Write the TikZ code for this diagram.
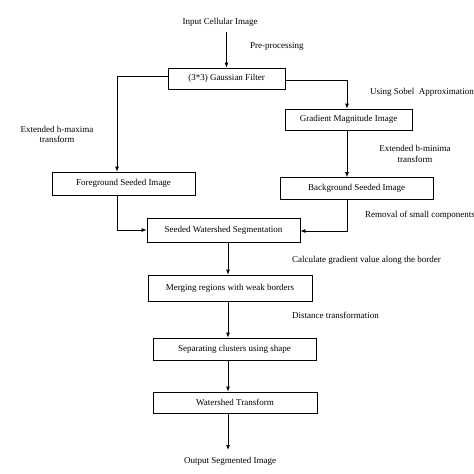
\documentclass[tikz,border=0pt]{standalone}
\usepackage{fontspec}
\setmainfont{Liberation Serif}
\usetikzlibrary{arrows.meta}
\begin{document}
\begin{tikzpicture}[x=1pt,y=-1pt,
  box/.style={draw, line width=0.8pt, inner sep=0pt, font=\fontsize{9}{10.5}\selectfont},
  lbl/.style={inner sep=0pt, font=\fontsize{9}{10.5}\selectfont},
  conn/.style={line width=0.8pt, -{Latex[length=5pt,width=4pt]}}]
\useasboundingbox[fill=white] (0,0) rectangle (474,474);
\node[lbl] (in) at (220,22) {Input Cellular Image};
\node[lbl, anchor=west] (pre) at (250,46) {Pre-processing};
\node[box, minimum width=117pt, minimum height=21pt] (gauss) at (226.5,78.5) {(3*3) Gaussian Filter};
\node[box, minimum width=127pt, minimum height=21pt] (grad) at (348.5,119.5) {Gradient Magnitude Image};
\node[box, minimum width=143pt, minimum height=23pt] (fg) at (123.5,183.5) {Foreground Seeded Image};
\node[box, minimum width=153pt, minimum height=22pt] (bg) at (356.5,188.5) {Background Seeded Image};
\node[box, minimum width=153pt, minimum height=24pt] (sws) at (223.5,230) {Seeded Watershed Segmentation};
\node[box, minimum width=164pt, minimum height=26pt] (merge) at (230,288) {Merging regions with weak borders};
\node[box, minimum width=163pt, minimum height=22pt] (sep) at (234.5,349) {Separating clusters using shape};
\node[box, minimum width=164pt, minimum height=21pt] (ws) at (235,402.5) {Watershed Transform};
\node[lbl] (out) at (230,461) {Output Segmented Image};
\node[lbl, align=center] (hmax) at (57,134.5) {Extended h-maxima\\transform};
\node[lbl, align=center] (hmin) at (415,154) {Extended h-minima\\transform};
\node[lbl, anchor=west] (sobel) at (370,92) {Using Sobel\ \ Approximation};
\node[lbl, anchor=west] (rem) at (365,215) {Removal of small components};
\node[lbl, anchor=west] (calc) at (292,260) {Calculate gradient value along the border};
\node[lbl, anchor=west] (dist) at (292,315) {Distance transformation};
\coordinate (c1) at (117,76);
\coordinate (c2) at (347,80);
\coordinate (c3) at (117,230);
\coordinate (c4) at (347,231);
\draw[conn] (in.south -| gauss.north) ++(0,6) -- (gauss.north);
\draw[conn] (gauss.west |- c1) -- (c1) -- (c1 |- fg.north);
\draw[conn] (gauss.east |- c2) -- (c2) -- (c2 |- grad.north);
\draw[conn] (grad.south -| c2) -- (c2 |- bg.north);
\draw[conn] (fg.south -| c3) -- (c3) -- (sws.west |- c3);
\draw[conn] (bg.south -| c4) -- (c4) -- (sws.east |- c4);
\draw[conn] (sws.south -| 228,0) -- (merge.north -| 228,0);
\draw[conn] (merge.south -| 228,0) -- (sep.north -| 228,0);
\draw[conn] (sep.south -| 228,0) -- (ws.north -| 228,0);
\draw[conn] (ws.south -| 228,0) -- (228,450);
\end{tikzpicture}
\end{document}
